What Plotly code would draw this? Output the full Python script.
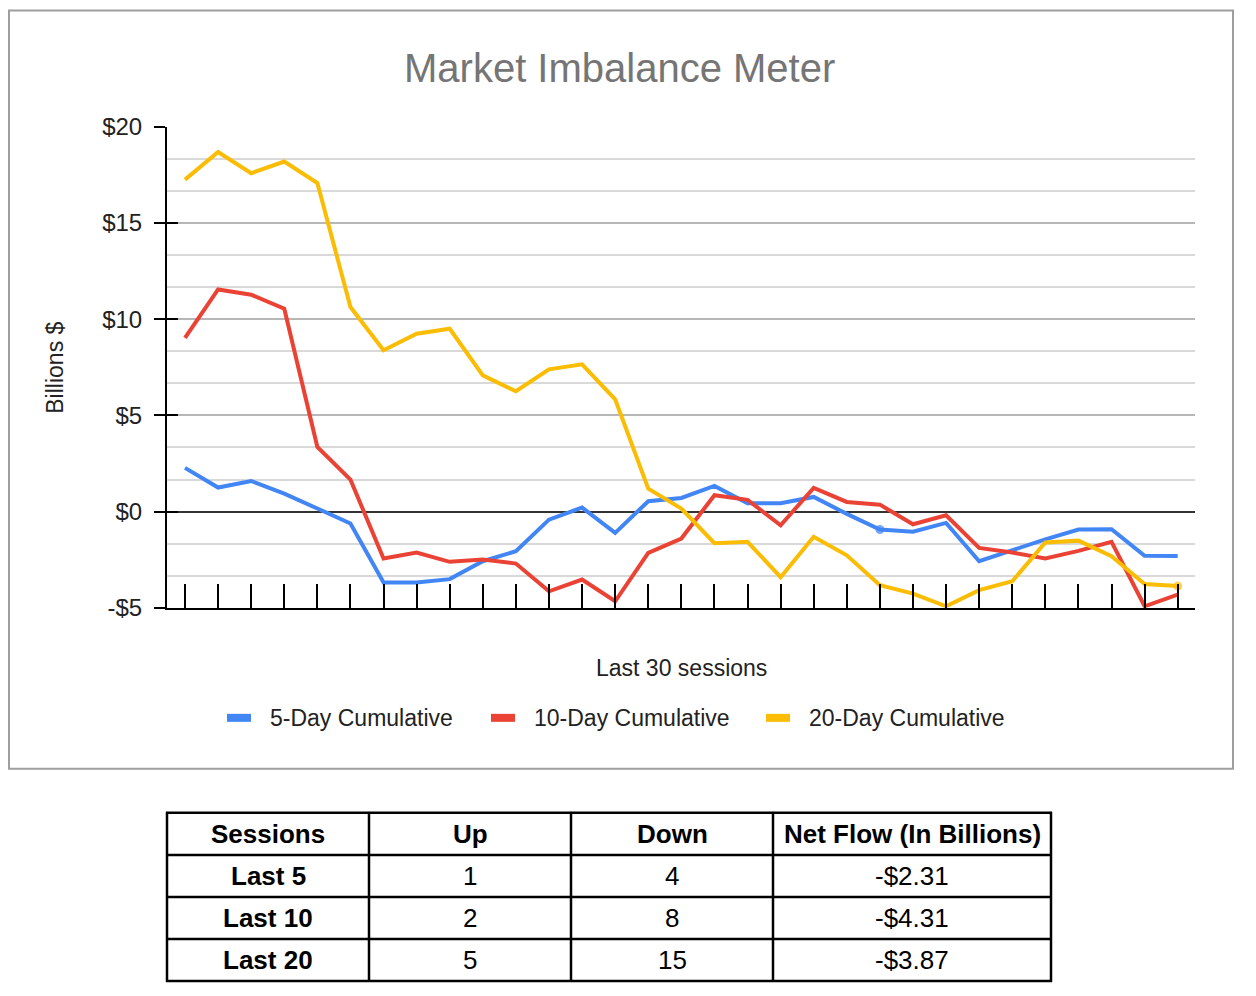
import plotly.graph_objects as go

# ---------------- data ----------------
sessions = list(range(31))
five_day = [2.27, 1.25, 1.59, 0.93, 0.16, -0.62, -3.69, -3.69, -3.51, -2.58,
            -2.06, -0.42, 0.21, -1.11, 0.54, 0.71, 1.33, 0.43, 0.43, 0.76,
            -0.12, -0.93, -1.05, -0.59, -2.58, -2.01, -1.44, -0.93, -0.92, -2.30,
            -2.31]
ten_day = [9.03, 11.54, 11.27, 10.54, 3.36, 1.66, -2.44, -2.13, -2.61, -2.49,
           -2.70, -4.14, -3.53, -4.66, -2.15, -1.40, 0.85, 0.61, -0.71, 1.23,
           0.50, 0.36, -0.66, -0.19, -1.89, -2.13, -2.44, -2.04, -1.57, -4.92,
           -4.31]
twenty_day = [17.25, 18.68, 17.58, 18.19, 17.07, 10.63, 8.38, 9.24, 9.50, 7.08,
              6.25, 7.39, 7.65, 5.83, 1.19, 0.16, -1.64, -1.57, -3.41, -1.31,
              -2.27, -3.83, -4.26, -4.92, -4.08, -3.62, -1.61, -1.51, -2.32, -3.76,
              -3.87]
series_names = ["5-Day Cumulative", "10-Day Cumulative", "20-Day Cumulative"]
series_colors = ["#4285F4", "#EA4335", "#FBBC04"]
highlight_index = [21, None, 30]   # points shown with a dot in the picture

y_tick_vals = [-5, 0, 5, 10, 15, 20]
y_tick_text = ["-$5", "$0", "$5", "$10", "$15", "$20"]

chart_title = "Market Imbalance Meter"
x_title = "Last 30 sessions"
y_title = "Billions $"

table_header = ["Sessions", "Up", "Down", "Net Flow (In Billions)"]
table_sessions = ["Last 5", "Last 10", "Last 20"]
table_up = [1, 2, 5]
table_down = [4, 8, 15]
table_net = ["-$2.31", "-$4.31", "-$3.87"]

# ---------------- layout helpers ----------------
W, H = 1240, 1000
OFFX = 8          # page margin left
TOP = 23          # page offset above the figure
SY = 0.9727       # vertical scale of the photograph
FONT = "Liberation Sans, Arial, Helvetica, sans-serif"


def px(x):
    return (x - OFFX) / W


def py(y):
    return 1 - (y / SY - TOP) / H


fig = go.Figure()

all_series = [five_day, ten_day, twenty_day]
for vals, name, color, hi in zip(all_series, series_names, series_colors, highlight_index):
    sizes = [9 if i == hi else 0 for i in range(len(vals))]
    fig.add_trace(go.Scatter(
        x=sessions, y=vals, name=name, mode="lines+markers",
        line=dict(color=color, width=4),
        marker=dict(size=sizes, color=color, line=dict(width=0)),
        showlegend=False, hoverinfo="x+y+name",
    ))

# invisible trace to create a companion y axis carrying the inside ticks
fig.add_trace(go.Scatter(x=[None], y=[None], yaxis="y2", showlegend=False, hoverinfo="skip"))

minor_vals = []
for v in y_tick_vals[:-1]:
    minor_vals += [v + 5 / 3, v + 10 / 3]

x_lo = -(185 - 167) / 33.09
x_hi = 30 + (1195 - 1177.7) / 33.09

fig.update_layout(
    width=W, height=H,
    margin=dict(l=0, r=0, t=0, b=0, pad=0),
    paper_bgcolor="white", plot_bgcolor="white",
    font=dict(family=FONT, color="#222222", size=24),
    showlegend=False,
    xaxis=dict(
        domain=[px(167), px(1195)],
        range=[x_lo, x_hi], tickmode="array", tickvals=sessions,
        showticklabels=False, ticks="inside", ticklen=23 / SY, tickwidth=2, tickcolor="black",
        showgrid=False, zeroline=False, showline=True, linecolor="black", linewidth=2,
    ),
    yaxis=dict(
        domain=[py(608), py(127)],
        range=[-5, 20], tickmode="array", tickvals=y_tick_vals, ticktext=y_tick_text,
        ticks="outside", ticklen=11, tickwidth=2, tickcolor="black",
        ticklabelstandoff=7,
        tickfont=dict(size=24, color="#222222"),
        showgrid=True, gridcolor="#b7b7b7", gridwidth=2,
        zeroline=True, zerolinecolor="#333333", zerolinewidth=2,
        showline=True, linecolor="black", linewidth=2,
        minor=dict(tickvals=minor_vals, showgrid=True, gridcolor="#d9d9d9", gridwidth=2, ticks=""),
    ),
    yaxis2=dict(
        domain=[py(608), py(127)],
        range=[-5, 20], overlaying="y", side="left", anchor="x",
        tickmode="array", tickvals=y_tick_vals, showticklabels=False,
        ticks="inside", ticklen=11, tickwidth=2, tickcolor="black",
        showgrid=False, zeroline=False, showline=False,
    ),
)

# chart frame
fig.add_shape(type="rect", xref="paper", yref="paper",
              x0=px(9), x1=px(1233), y0=py(769), y1=py(11),
              line=dict(color="#9e9e9e", width=2), fillcolor="rgba(0,0,0,0)", layer="below")

annotations = [
    dict(text=chart_title, x=px(619), y=py(68), xanchor="center", yanchor="middle",
         font=dict(size=40, color="#757575")),
    dict(text=x_title, x=px(681), y=py(668), xanchor="center", yanchor="middle",
         font=dict(size=23, color="#222222")),
    dict(text=y_title, x=px(55), y=py(368), xanchor="center", yanchor="middle",
         textangle=-90, font=dict(size=23, color="#222222")),
]

# legend drawn by hand
legend_sample_x = [227, 491, 766]
for name, color, sx in zip(series_names, series_colors, legend_sample_x):
    fig.add_shape(type="rect", xref="paper", yref="paper",
                  x0=px(sx), x1=px(sx + 24), y0=py(722), y1=py(714),
                  line=dict(width=0), fillcolor=color)
    annotations.append(dict(text=name, x=px(sx + 41), y=py(718), xanchor="left", yanchor="middle",
                            font=dict(size=23, color="#222222")))

# summary table drawn with shapes and text
col_widths = [202, 202, 202, 278]
row_height = 42
tbl_left, tbl_top = 167, 813
col_edges = [tbl_left]
for w in col_widths:
    col_edges.append(col_edges[-1] + w)
table_rows = [table_header] + [
    [s, str(u), str(d), n] for s, u, d, n in zip(table_sessions, table_up, table_down, table_net)
]
row_edges = [tbl_top + i * row_height for i in range(len(table_rows) + 1)]

for ye in row_edges:
    fig.add_shape(type="line", xref="paper", yref="paper",
                  x0=px(col_edges[0] - 1), x1=px(col_edges[-1] + 1), y0=py(ye), y1=py(ye),
                  line=dict(color="black", width=2.5))
for xe in col_edges:
    fig.add_shape(type="line", xref="paper", yref="paper",
                  x0=px(xe), x1=px(xe), y0=py(row_edges[0] - 1), y1=py(row_edges[-1] + 1),
                  line=dict(color="black", width=2.5))

for r, row in enumerate(table_rows):
    yc = (row_edges[r] + row_edges[r + 1]) / 2
    for c, val in enumerate(row):
        xc = (col_edges[c] + col_edges[c + 1]) / 2
        txt = "<b>%s</b>" % val if (r == 0 or c == 0) else val
        annotations.append(dict(text=txt, x=px(xc), y=py(yc), xanchor="center", yanchor="middle",
                                font=dict(size=26, color="black")))

for a in annotations:
    a.update(xref="paper", yref="paper", showarrow=False)
fig.update_layout(annotations=annotations)

fig.write_html("out.html")
